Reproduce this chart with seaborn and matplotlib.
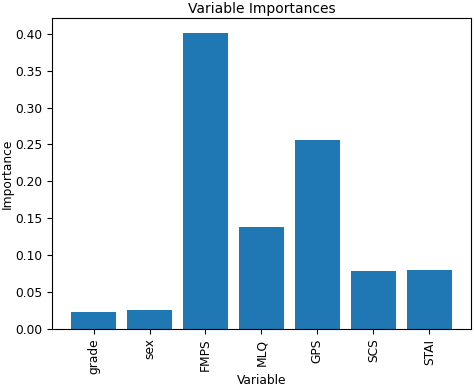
import matplotlib
matplotlib.use('Agg')
import matplotlib.pyplot as plt
import seaborn as sns
import pandas as pd

# valores
variaveis = ['grade', 'sex', 'FMPS', 'MLQ', 'GPS', 'SCS', 'STAI']
importancias = [0.022, 0.026, 0.401, 0.138, 0.256, 0.078, 0.080]

df = pd.DataFrame({'Variable': variaveis, 'Importance': importancias})

fig, ax = plt.subplots(figsize=(4.74, 3.89), dpi=100)
sns.barplot(data=df, x='Variable', y='Importance', color='#1f77b4',
            saturation=1, width=0.8, ax=ax)
ax.set_title('Variable Importances', fontsize=10, pad=4)
ax.set_xlabel('Variable', fontsize=8.8, labelpad=0)
ax.set_ylabel('Importance', fontsize=8.8, labelpad=1)
ax.tick_params(axis='x', rotation=90, labelsize=8.8)
ax.tick_params(axis='y', labelsize=8.8)
ax.set_xlim(-0.74, 6.74)

plt.subplots_adjust(left=0.11, right=0.993, top=0.953, bottom=0.155)
plt.savefig('out.png', dpi=100)
